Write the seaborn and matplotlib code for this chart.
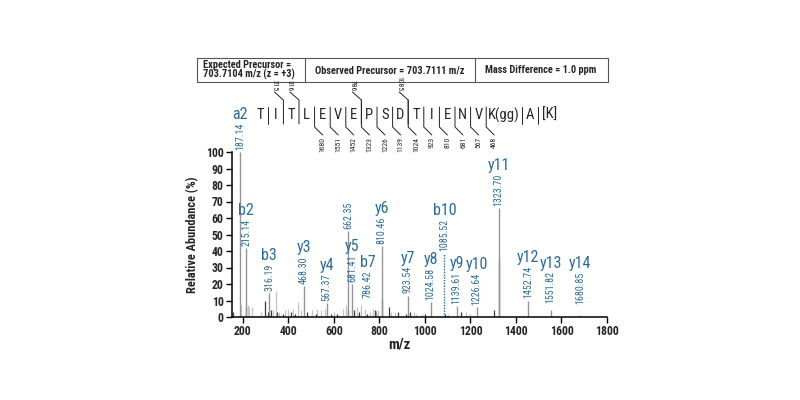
import matplotlib
matplotlib.use("Agg")
import matplotlib.pyplot as plt
import seaborn as sns
from matplotlib.lines import Line2D
from matplotlib.patches import Rectangle

# Labelled fragment peaks (m/z, relative abundance, ion name)
ion_mz = [187.14, 215.14, 316.19, 468.30, 567.37, 662.35, 681.41, 786.42, 810.46,
          923.54, 1024.58, 1139.61, 1226.64, 1323.70, 1452.74, 1551.82, 1680.85]
ion_int = [100, 42, 14.5, 19, 8.5, 52, 20, 3.5, 43, 13, 9, 6.5, 6, 66, 10, 4.5, 1.5]
ion_name = ["a2", "b2", "b3", "y3", "y4", "", "y5", "b7", "y6",
            "y7", "y8", "y9", "y10", "y11", "y12", "y13", "y14"]

# b10 is marked with a dotted line only
b10_mz = 1085.52
b10_int = 39

# Unlabelled background peaks
light_mz = [190, 222, 228, 240, 280, 330, 345, 360, 385, 400, 420, 443, 455, 505, 525,
            545, 560, 600, 640, 652, 700, 720, 735, 760, 772, 795, 850, 870, 950, 960,
            985, 1100, 1180, 1200, 1433]
light_int = [7, 7, 6, 6, 3, 4, 16, 3, 4, 5, 5, 9, 4, 4, 5,
             4, 5, 3, 5, 7, 6, 7, 5, 3, 5, 4, 3, 3, 3, 2,
             2, 2, 3, 2, 1.5]
dark_mz = [155, 212, 296, 310, 322, 350, 375, 410, 430, 480, 520, 585, 615, 660, 690,
           712, 745, 780, 812, 840, 880, 915, 935, 1000, 1090, 1160, 1304, 1325]
dark_int = [3, 6, 10, 3, 4, 3, 2, 3, 2, 3, 2, 2, 2, 4, 4,
            3, 2, 4, 11, 6, 3, 2, 3, 2, 2, 3, 4, 36]

# Peptide sequence and fragment cleavage marks
residues = ["T", "I", "T", "L", "E", "V", "E", "P", "S", "D", "T", "I", "E", "N", "V",
            "K(gg)", "A", "[K]"]
b_after = [2, 3, 7, 10]
b_labels = ["215", "316", "786", "1085"]
y_after = [4, 5, 6, 7, 8, 9, 10, 11, 12, 13, 14, 15]
y_labels = ["1680", "1551", "1452", "1323", "1226", "1139", "1024", "923", "810",
            "681", "567", "468"]

header = ["Expected Precursor =\n703.7104 m/z (z = +3)",
          "Observed Precursor = 703.7111 m/z",
          "Mass Difference = 1.0 ppm"]

sns.set_theme(style="ticks")
# condensed face, close to the Helvetica Condensed of the original
plt.rcParams['font.family'] = ['Roboto Condensed', 'Archivo Narrow', 'Liberation Sans',
                               'DejaVu Sans']

BLUE = "#2c6b9b"

fig = plt.figure(figsize=(8, 4), dpi=100)
W, H = 800.0, 400.0


def fx(px):
    return px / W


def fy(py):
    return 1 - py / H


ax = fig.add_axes([fx(232), fy(317), fx(607) - fx(232), fy(152) - fy(317)])

ax.vlines(light_mz, 0, light_int, color="#c4c4c4", linewidth=0.9)
ax.vlines(dark_mz, 0, dark_int, color="#3a3a3a", linewidth=0.9)
ax.vlines(ion_mz, 0, ion_int, color="#959595", linewidth=1.0)
ax.vlines([b10_mz], 0, [b10_int], color=BLUE, linewidth=1.0, linestyles=(0, (1, 1)))

ax.set_xlim(152, 1800)
ax.set_ylim(0, 100)
ax.set_xticks(range(200, 1801, 200))
ax.set_yticks(range(0, 101, 10))
ax.tick_params(axis="both", labelsize=8.5, length=4, width=1.0, pad=2, color="black")
for lab in ax.get_xticklabels() + ax.get_yticklabels():
    lab.set_fontweight("bold")
sns.despine(ax=ax)
for side in ["left", "bottom"]:
    ax.spines[side].set_linewidth(1.1)
    ax.spines[side].set_color("black")
ax.set_ylabel("Relative Abundance (%)", fontsize=8.8, fontweight="bold", labelpad=5)
ax.set_xlabel("m/z", fontsize=10.5, fontweight="bold")
ax.xaxis.set_label_coords((399 - 232) / (607 - 232), -0.125)

# peak labels: value rotated, ion name above it
nudge = {"b7": (-6, 8), "y13": (0, 3), "y14": (0, 6)}
all_mz = ion_mz + [b10_mz]
all_int = ion_int + [b10_int]
all_name = ion_name + ["b10"]
for mz, h, name in zip(all_mz, all_int, all_name):
    dx, dy = nudge.get(name, (0, 0))
    val = ax.annotate(f"{mz:.2f}", xy=(mz, h), xytext=(dx, 1.5 + dy),
                      textcoords="offset points", rotation=90, ha="center", va="bottom",
                      fontsize=7.2, color=BLUE, annotation_clip=False)
    if name:
        ax.annotate(name, xy=(0.5, 1), xycoords=val, xytext=(0, 0.5),
                    textcoords="offset points", ha="center", va="bottom",
                    fontsize=11.5, color=BLUE, annotation_clip=False)

# header box
fig.add_artist(Rectangle((fx(197), fy(82)), fx(608) - fx(197), fy(58) - fy(82),
                         transform=fig.transFigure, fill=False, edgecolor="#555555",
                         linewidth=0.8))
for px in [305, 475]:
    fig.add_artist(Line2D([fx(px), fx(px)], [fy(58), fy(82)], transform=fig.transFigure,
                          color="#555555", linewidth=0.8))
fig.text(fx(203), fy(70), header[0], ha="left", va="center", fontsize=7.5,
         fontweight="bold", linespacing=0.95)
fig.text(fx(390), fy(70), header[1], ha="center", va="center", fontsize=7.5,
         fontweight="bold")
fig.text(fx(541), fy(70), header[2], ha="center", va="center", fontsize=7.5,
         fontweight="bold")

# peptide sequence with fragment marks
step = 15.6
widths = [2.3 if r == "K(gg)" else 1.5 if r == "[K]" else 1.0 for r in residues]
centers = [260.0]
for i in range(1, len(residues)):
    centers.append(centers[-1] + (widths[i - 1] + widths[i]) / 2 * step)
seq_y = 115
for cx, r in zip(centers, residues):
    fig.text(fx(cx), fy(seq_y), r, ha="center", va="center", fontsize=10.5)
line_kw = dict(transform=fig.transFigure, color="#222222", linewidth=0.7)
for i in range(1, len(residues)):
    left_edge = centers[i - 1] + widths[i - 1] / 2 * step
    right_edge = centers[i] - widths[i] / 2 * step
    sx = (left_edge + right_edge) / 2
    top, bot = 107, 124
    if i in b_after:
        lbl = b_labels[b_after.index(i)]
        fig.add_artist(Line2D([fx(sx), fx(sx), fx(sx - 9)], [fy(bot), fy(100), fy(92)],
                              **line_kw))
        fig.text(fx(sx - 9), fy(91), lbl, rotation=270, ha="center", va="bottom",
                 fontsize=5.5)
        top = 100
    if i in y_after:
        lbl = y_labels[y_after.index(i)]
        fig.add_artist(Line2D([fx(sx), fx(sx), fx(sx + 8)], [fy(top), fy(127), fy(135)],
                              **line_kw))
        fig.text(fx(sx + 8), fy(137), lbl, rotation=90, ha="center", va="top",
                 fontsize=5.5)
    elif i not in b_after:
        fig.add_artist(Line2D([fx(sx), fx(sx)], [fy(top), fy(bot)], **line_kw))

fig.savefig("out.png", dpi=100)
